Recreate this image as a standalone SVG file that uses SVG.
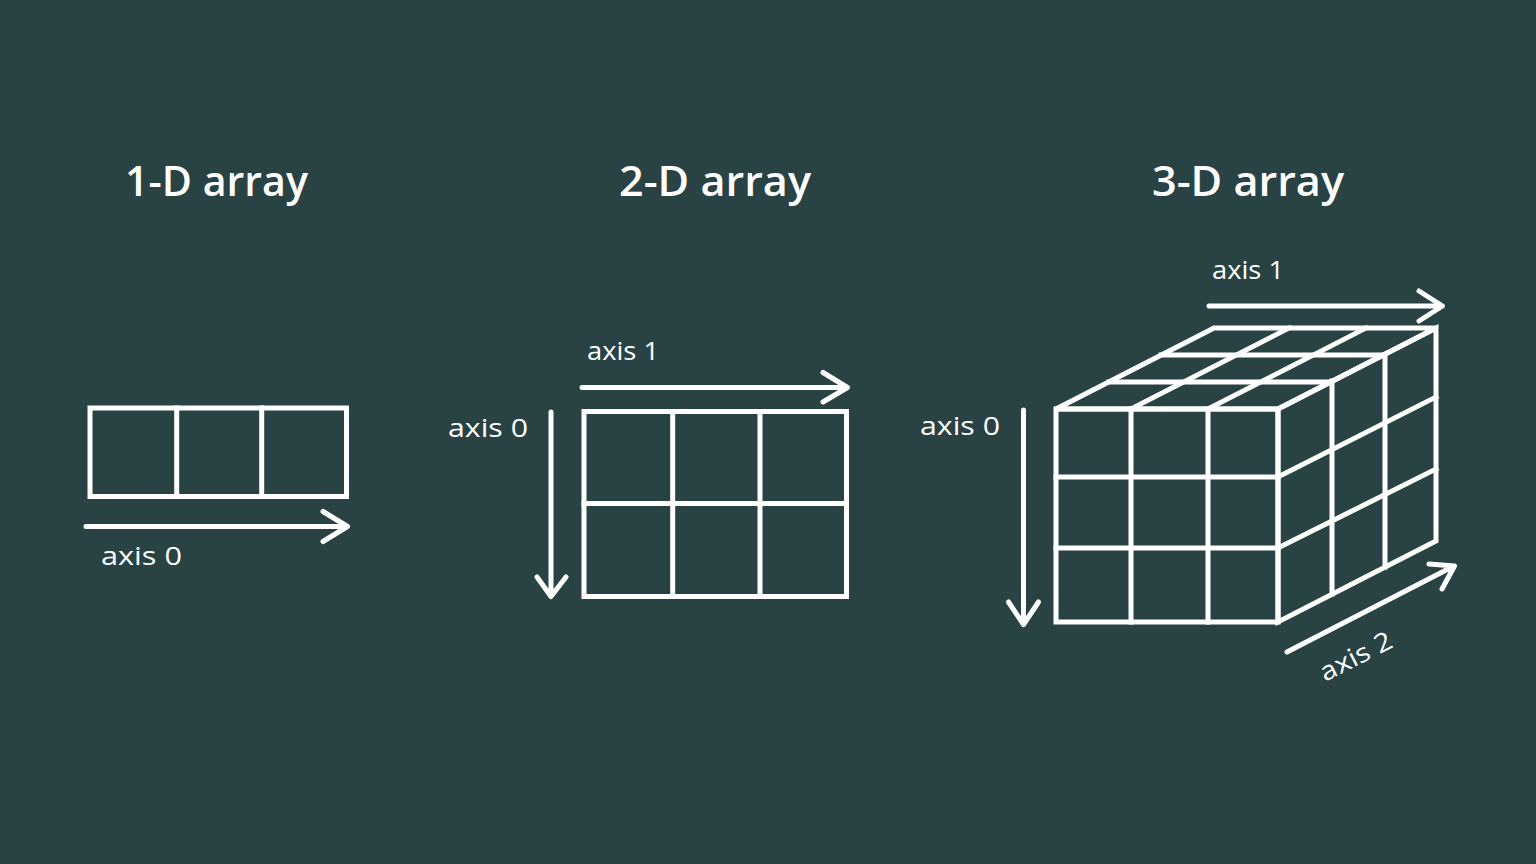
<svg xmlns="http://www.w3.org/2000/svg" width="1536" height="864" viewBox="0 0 1536 864">
<defs>
<style>
.grid{fill:none;stroke:#ffffff;stroke-width:5;stroke-linejoin:miter;stroke-linecap:square}
.arr{fill:none;stroke:#ffffff;stroke-width:5;stroke-linecap:round;stroke-linejoin:round}
.title{font-family:"Open Sans","Liberation Sans",sans-serif;font-size:42px;font-weight:600;fill:#ffffff}
.lab{font-family:"Open Sans","Liberation Sans",sans-serif;font-size:26px;font-weight:500;fill:#ffffff}
</style>
</defs>
<rect width="1536" height="864" fill="#294244"/>

<g id="title-1d"><text class="title" x="125" y="196" textLength="183" lengthAdjust="spacingAndGlyphs">1-D array</text></g>
<g id="title-2d"><text class="title" x="619" y="196" textLength="192" lengthAdjust="spacingAndGlyphs">2-D array</text></g>
<g id="title-3d"><text class="title" x="1152" y="196" textLength="192" lengthAdjust="spacingAndGlyphs">3-D array</text></g>

<g id="array-1d">
<rect class="grid" x="90" y="408" width="256.5" height="88.5"/>
<line class="grid" x1="176.7" y1="408" x2="176.7" y2="496.5"/>
<line class="grid" x1="261.7" y1="408" x2="261.7" y2="496.5"/>
</g>

<g id="array-2d">
<rect class="grid" x="584" y="411.5" width="262.5" height="185"/>
<line class="grid" x1="584" y1="503.5" x2="846.5" y2="503.5"/>
<line class="grid" x1="672.7" y1="411.5" x2="672.7" y2="596.5"/>
<line class="grid" x1="760" y1="411.5" x2="760" y2="596.5"/>
</g>

<g id="array-3d">
<rect class="grid" x="1056" y="409" width="222" height="213"/>
<line class="grid" x1="1131" y1="409" x2="1131" y2="622"/>
<line class="grid" x1="1208" y1="409" x2="1208" y2="622"/>
<line class="grid" x1="1056" y1="477" x2="1278" y2="477"/>
<line class="grid" x1="1056" y1="548" x2="1278" y2="548"/>
<polygon class="grid" points="1056,409 1214,328 1436,328 1278,409"/>
<line class="grid" x1="1131" y1="409" x2="1289" y2="328"/>
<line class="grid" x1="1208" y1="409" x2="1366" y2="328"/>
<line class="grid" x1="1109" y1="382" x2="1331" y2="382"/>
<line class="grid" x1="1161" y1="355" x2="1384" y2="355"/>
<polygon class="grid" points="1278,409 1436,328 1436,541 1278,622"/>
<line class="grid" x1="1332" y1="381" x2="1332" y2="594"/>
<line class="grid" x1="1385" y1="355" x2="1385" y2="567"/>
<line class="grid" x1="1278" y1="477" x2="1436" y2="397"/>
<line class="grid" x1="1278" y1="548" x2="1436" y2="469"/>
</g>

<g id="connectors">
<path class="arr" d="M86 526.5 H347 M323 511.5 L347.5 526.5 L323 541.5"/>
<path class="arr" d="M582 387.5 H847 M823 372.5 L847.5 387.5 L823 402"/>
<path class="arr" d="M551 412 V596 M537 577 L551 596.5 L566 577"/>
<path class="arr" d="M1023.5 410 V624 M1008.5 602 L1023.5 624.5 L1038.5 602"/>
<path class="arr" d="M1209 306 H1442 M1419 291 L1442.5 306 L1419 321"/>
<path class="arr" d="M1287 652 L1454 566 M1429 564 L1454.5 566 L1442 589"/>
</g>

<g id="labels">
<text class="lab" x="101" y="565" textLength="81" lengthAdjust="spacingAndGlyphs">axis 0</text>
<text class="lab" x="587" y="360" textLength="72" lengthAdjust="spacingAndGlyphs">axis 1</text>
<text class="lab" x="448" y="437" textLength="80" lengthAdjust="spacingAndGlyphs">axis 0</text>
<text class="lab" x="920" y="435" textLength="80" lengthAdjust="spacingAndGlyphs">axis 0</text>
<text class="lab" x="1212" y="279" textLength="72" lengthAdjust="spacingAndGlyphs">axis 1</text>
<text class="lab" x="1325" y="682" textLength="78" lengthAdjust="spacingAndGlyphs" transform="rotate(-27 1325 682)">axis 2</text>
</g>
</svg>
